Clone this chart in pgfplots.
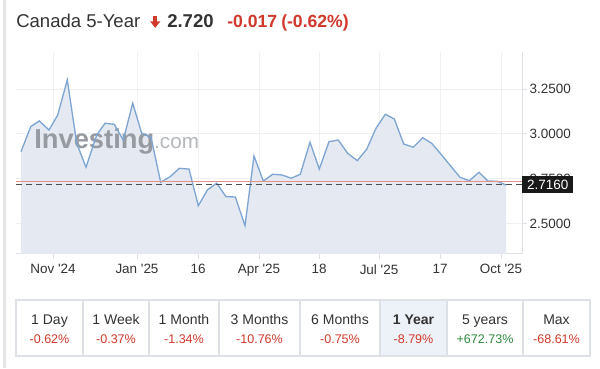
\documentclass[border=0pt]{standalone}
\usepackage{fontspec}
\setmainfont{Liberation Sans}
\usepackage{pgfplots}
\usepackage{pgfplotstable}
\pgfplotsset{compat=1.18}
\definecolor{txt}{HTML}{333333}
\definecolor{redc}{HTML}{D0392B}
\definecolor{redl}{HTML}{E8918A}
\definecolor{greenc}{HTML}{2E8B3E}
\definecolor{linec}{HTML}{7FA6D3}
\definecolor{fillc}{HTML}{E5EAF2}
\definecolor{gridc}{HTML}{EEF0F4}
\definecolor{borderc}{HTML}{DDE1E6}
\definecolor{selc}{HTML}{EDF2F9}
\definecolor{wm}{HTML}{979AA0}
\definecolor{wm2}{HTML}{B4B7BB}

\pgfplotstableread{
x y
21 2.901
30.7 3.041
39.3 3.073
49 3.022
57.7 3.106
67.3 3.302
76.7 2.948
86 2.814
96.7 2.994
105 3.060
114.3 3.054
123.3 2.966
132.7 3.172
141.7 3.004
151 2.982
160.7 2.730
170 2.761
179.3 2.808
189 2.804
198.3 2.599
207.3 2.687
216.7 2.725
226 2.650
235.3 2.648
245 2.488
254 2.877
263.3 2.737
272.7 2.775
282 2.771
291.3 2.753
300.3 2.775
310 2.954
319.3 2.804
329 2.957
338.3 2.966
347.7 2.892
357.3 2.851
366.7 2.915
376 3.032
385.3 3.110
394.3 3.084
403.7 2.944
413.3 2.926
422.7 2.979
431.7 2.948
441 2.887
450.7 2.821
460 2.758
469.3 2.739
479 2.786
488 2.737
497.3 2.736
506 2.715
}\yielddata

\begin{document}
\begin{tikzpicture}[x=0.75pt,y=0.75pt]
\path[use as bounding box] (0,0) rectangle (600,368);
\fill[white] (0,0) rectangle (600,368);
\fill[black!10] (3,0) rectangle (5.5,368);

\begin{axis}[
  at={(12pt,85.5pt)}, anchor=south west, scale only axis,
  width=379.5pt, height=151.5pt,
  xmin=16, xmax=522, ymin=2.3296, ymax=3.458,
  axis x line*=bottom, axis y line*=right,
  axis line style={draw=borderc, line width=0.75pt},
  xtick={53,137,198,259,319,379,440,501},
  xticklabels={Nov \textquotesingle 24, Jan \textquotesingle 25, 16, Apr \textquotesingle 25, 18, Jul \textquotesingle 25, 17, Oct \textquotesingle 25},
  ytick={2.5,2.75,3,3.25},
  yticklabels={2.5000,2.7500,3.0000,3.2500},
  grid=major, grid style={draw=gridc, line width=0.75pt},
  tick style={draw=borderc, line width=0.75pt},
  tick align=outside, major tick length=3.5pt,
  /pgf/number format/assume math mode=true,
  ticklabel style={font=\fontsize{10.1}{12}\selectfont, text=txt},
  xticklabel style={anchor=north, inner sep=0pt, yshift=-4pt},
  yticklabel style={anchor=west, inner sep=0pt, xshift=2pt},
]
\addplot[fill=fillc, draw=none] table[x=x,y=y] {\yielddata} \closedcycle;
\node[anchor=base west, inner sep=0pt] at (axis cs:34,2.920)
  {\textcolor{wm}{\bfseries\fontsize{20.5}{22}\selectfont Investing}\textcolor{wm2}{\fontsize{15.5}{18}\selectfont .com}};
\addplot[linec, line width=1pt] table[x=x,y=y] {\yielddata};
\addplot[redl, line width=0.75pt] coordinates {(16,2.737) (522,2.737)};
\addplot[black!70, line width=1pt, dash pattern=on 4.5pt off 3pt] coordinates {(16,2.716) (522,2.716)};
\coordinate (lbl) at (axis cs:522,2.716);
\end{axis}

\node[anchor=west, fill=black!90, text=white, inner xsep=3.6pt, inner ysep=0pt,
      minimum height=12.5pt, font=\fontsize{10.1}{12}\selectfont] at (lbl) {2.7160};

\begin{scope}[yshift=276pt, y=-0.75pt]
  % title
  \node[anchor=base west, inner sep=0pt, text=txt, font=\fontsize{13.9}{16}\selectfont] at (16,28) {Canada 5-Year};
  \fill[redc] (153.3,16.5) rectangle (157.2,22.2);
  \fill[redc] (150.2,21.5) -- (160.3,21.5) -- (155.25,27.8) -- cycle;
  \node[anchor=base west, inner sep=0pt, text=txt, font=\bfseries\fontsize{13.9}{16}\selectfont] at (167,28) {2.720};
  \node[anchor=base west, inner sep=0pt, text=redc, font=\bfseries\fontsize{13.2}{16}\selectfont] at (227,28) {-0.017};
  \node[anchor=base west, inner sep=0pt, text=redc, font=\bfseries\fontsize{13.2}{16}\selectfont] at (281,28) {(-0.62\%)};
  % buttons
  \fill[selc] (380,300) rectangle (447,356);
  \draw[borderc, line width=0.9pt] (16,300) rectangle (590,356);
  \foreach \xx in {83,149,219,300,380,447,523}
    \draw[borderc, line width=0.9pt] (\xx,300) -- (\xx,356);
  \foreach \cx/\lab/\pct/\col in {49.5/1 Day/-0.62\%/redc, 116/1 Week/-0.37\%/redc, 184/1 Month/-1.34\%/redc,
      259.5/3 Months/-10.76\%/redc, 340/6 Months/-0.75\%/redc, 485/5 years/+672.73\%/greenc, 556.5/Max/-68.61\%/redc}{
    \node[anchor=base, inner sep=0pt, text=txt, font=\fontsize{10.5}{12}\selectfont] at (\cx,324.3) {\lab};
    \node[anchor=base, inner sep=0pt, text=\col, font=\fontsize{9.4}{11}\selectfont] at (\cx,343.3) {\pct};
  }
  \node[anchor=base, inner sep=0pt, text=txt, font=\bfseries\fontsize{10.5}{12}\selectfont] at (413.5,324.3) {1 Year};
  \node[anchor=base, inner sep=0pt, text=redc, font=\fontsize{9.4}{11}\selectfont] at (413.5,343.3) {-8.79\%};
\end{scope}
\end{tikzpicture}
\end{document}
